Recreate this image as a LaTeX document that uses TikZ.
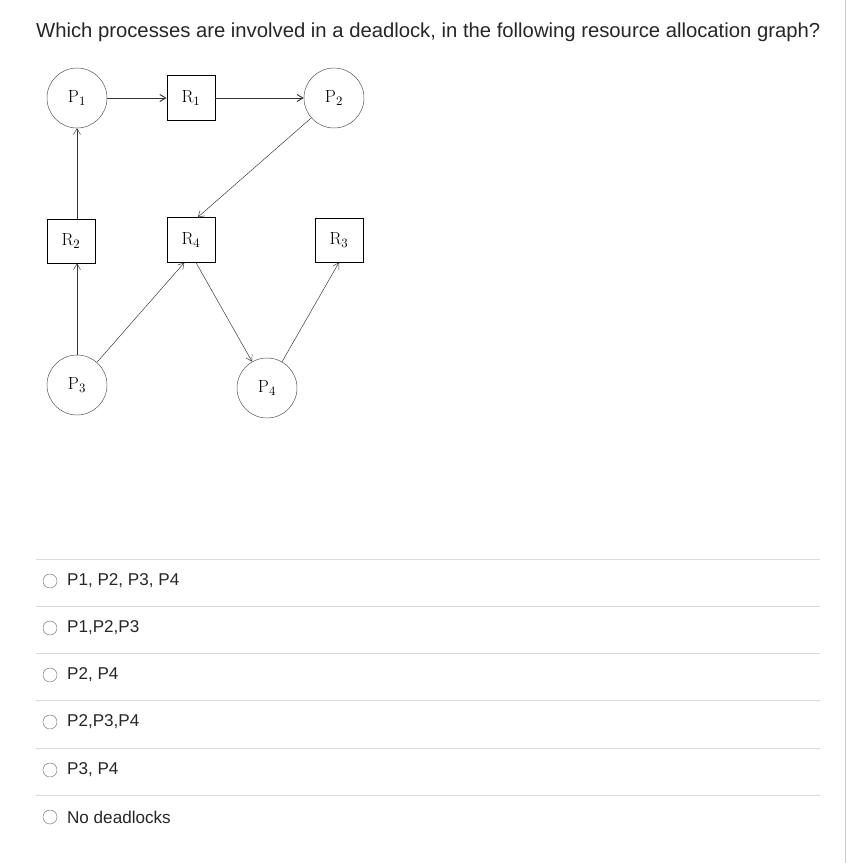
\documentclass[tikz,border=0pt]{standalone}
\usepackage{fontspec}
\setsansfont{Liberation Sans}
\usepackage{tikz}
\usetikzlibrary{arrows.meta, positioning}

\begin{document}
\begin{tikzpicture}[
        x=0.03cm, y=-0.03cm,
        >={Straight Barb[length=5pt,width=6pt]},
        proc/.style={circle, draw=black!70, minimum size=1.8cm, inner sep=0pt, font=\fontsize{15}{17}\selectfont},
        res/.style={rectangle, draw, minimum width=1.44cm, minimum height=1.33cm, inner sep=0pt, font=\fontsize{15}{17}\selectfont},
        arrow/.style={->, black!80},
        sep/.style={draw=black!15},
        radio/.style={circle, draw=black!55, minimum size=0.42cm, inner sep=0pt},
        choice/.style={right, font=\sffamily\fontsize{14.6}{17}\selectfont, text=black!85}
    ]
        \useasboundingbox (0,0) rectangle (853,863);
        \draw[black!20] (845,0) -- (845,863);
        \node[anchor=west, font=\sffamily\fontsize{17.3}{20}\selectfont, text=black!85] (title) at (32,32)
            {Which processes are involved in a deadlock, in the following resource allocation graph?};

        % graph
        \node[proc] (p1) at (77,98) {P$_1$};
        \node[res, thick] (r1) at (191,98) {R$_1$};
        \node[proc] (p2) at (334,98) {P$_2$};
        \node[res] (r2) at (71,241) {R$_2$};
        \node[res, thick] (r4) at (191,240) {R$_4$};
        \node[res] (r3) at (339,240) {R$_3$};
        \node[proc] (p3) at (77,385) {P$_3$};
        \node[proc] (p4) at (267,388) {P$_4$};

        \draw[arrow, thick] (p1) -- (r1);
        \draw[arrow, thick] (r1) -- (p2);
        \draw[arrow] (r2.north -| p1) -- (p1);
        \draw[arrow] (p3) -- (p3 |- r2.south);
        \draw[arrow] (p2) -- ([xshift=0.2cm]r4.north);
        \draw[arrow] (p3) -- ([xshift=-0.2cm]r4.south);
        \draw[arrow] ([xshift=0.15cm]r4.south) -- (p4);
        \draw[arrow] (p4) -- (r3.south);

        % answers
        \foreach \y/\txt [count=\i] in {581/{P1, P2, P3, P4}, 628/{P1,P2,P3}, 675/{P2, P4},
                                   722/{P2,P3,P4}, 770/{P3, P4}, 817/{No deadlocks}} {
            \draw[sep] (36,\y-22) -- (820,\y-22);
            \node[radio] (o\i) at (50,\y) {};
            \node[choice] (t\i) at (63,\y) {\txt};
        }
    \end{tikzpicture}
\end{document}
